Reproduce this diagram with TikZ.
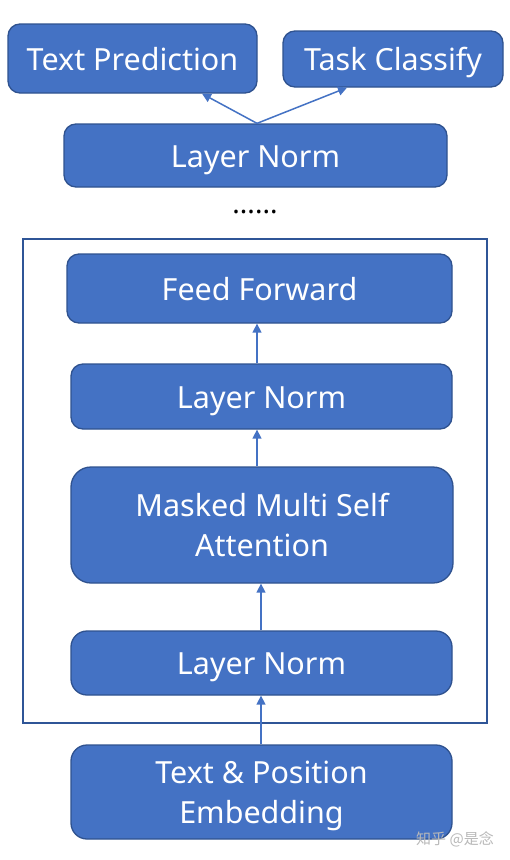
\documentclass[tikz,border=0pt]{standalone}
\usepackage{fontspec}
\setmainfont{Noto Sans}
\newfontfamily\cjk{Noto Sans CJK SC}
\usetikzlibrary{arrows.meta,calc}
\definecolor{boxfill}{HTML}{4472C4}
\definecolor{boxline}{HTML}{2F528F}
\definecolor{frameline}{HTML}{2F5597}
\begin{document}
\begin{tikzpicture}[x=1pt,y=-1pt,
  blockbox/.style={draw=boxline, line width=1.3pt, fill=boxfill, rounded corners=12pt,
    text=white, inner sep=0pt, align=center,
    font=\fontsize{30.5}{40}\selectfont},
  oneline/.style={text height=23.8pt, text depth=0pt},
  arr/.style={draw=boxfill, line width=1.5pt, -{Triangle[width=9pt,length=9pt]}}]
\useasboundingbox (0,0) rectangle (510,860);
\fill[white] (0,0) rectangle (510,860);
% heads
\node[blockbox, oneline, minimum width=249pt, minimum height=69pt] (tp) at (132.5,58.5) {Text Prediction};
\node[blockbox, oneline, minimum width=220pt, minimum height=56pt] (tc) at (393,59) {Task Classify};
\node[blockbox, oneline, minimum width=383pt, minimum height=63pt] (lntop) at (255.5,155.5) {Layer Norm};
\node[font=\fontsize{28}{28}\selectfont, inner sep=0pt, anchor=base] (dots) at (255,213.5) {......};
% decoder block frame
\node[draw=frameline, line width=1.5pt, minimum width=464pt, minimum height=484pt, inner sep=0pt] (frame) at (255,481) {};
\node[blockbox, oneline, minimum width=385pt, minimum height=69pt] (ff) at (259.5,288.5) {Feed Forward};
\node[blockbox, oneline, minimum width=381pt, minimum height=65pt] (ln2) at (261.5,396.5) {Layer Norm};
\node[blockbox, rounded corners=20pt, minimum width=382pt, minimum height=116pt] (mmsa) at (262,525) {Masked Multi Self\\Attention};
\node[blockbox, rounded corners=16pt, minimum width=381pt, minimum height=64pt, oneline] (ln3) at (261.5,663) {Layer Norm};
\node[blockbox, rounded corners=16pt, minimum width=381pt, minimum height=94pt] (emb) at (261.5,792) {\rule{0pt}{30pt}Text \& Position\\Embedding};
% connectors
\coordinate (fork) at ($(lntop.north)+(1.5,0)$);
\draw[arr] (fork) -- ($(tp.south)+(69.5,0)$);
\draw[arr] (fork) -- ($(tc.south)+(-46,0)$);
\draw[arr] ($(ln2.north)+(-4.5,0)$) -- ($(ff.south)+(-2.5,0)$);
\draw[arr] ($(mmsa.north)+(-5,0)$) -- ($(ln2.south)+(-4.5,0)$);
\draw[arr] ($(ln3.north)+(-0.5,0)$) -- ($(mmsa.south)+(-1,0)$);
\draw[arr] ($(emb.north)+(-0.5,0)$) -- ($(ln3.south)+(-0.5,0)$);
% watermark
\node[text=gray!55, font=\cjk\fontsize{15}{15}\selectfont, inner sep=0pt] (wm) at (455,839) {知乎 @是念};
\end{tikzpicture}
\end{document}
